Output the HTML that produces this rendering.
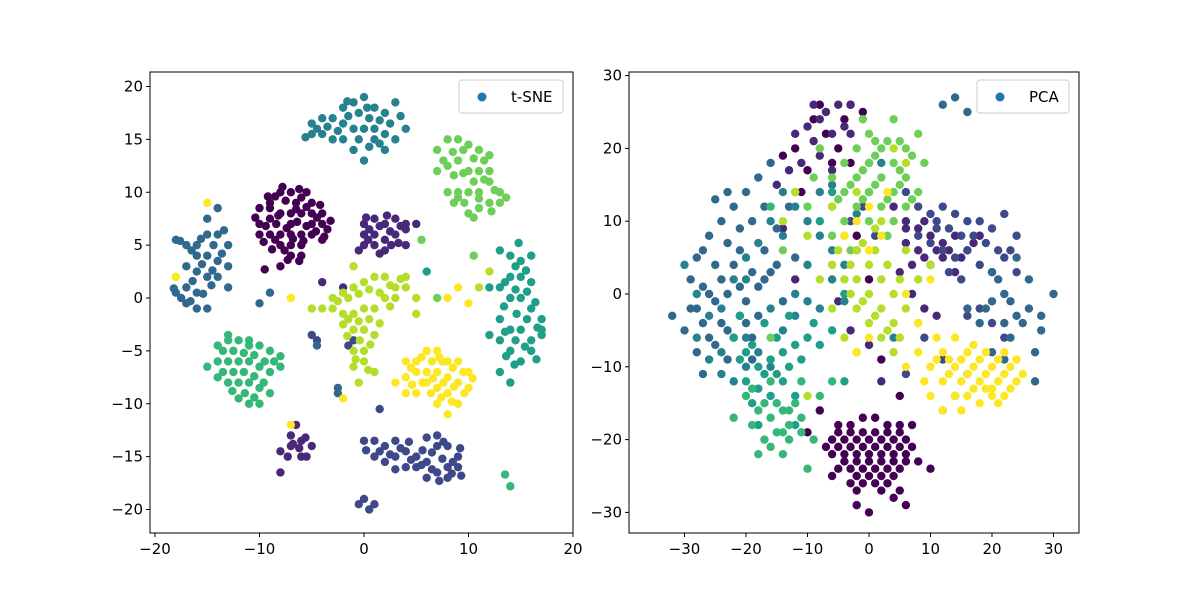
<!DOCTYPE html>
<html><head><meta charset="utf-8"><style>
body{margin:0;background:#fff;}
svg text{font-family:"DejaVu Sans","Liberation Sans",sans-serif;font-size:15px;fill:#000;}
</style></head><body>
<svg id="chart" width="1200" height="600" xmlns="http://www.w3.org/2000/svg">
<defs>
<clipPath id="clipL"><rect x="150" y="72" width="423" height="461"/></clipPath>
<clipPath id="clipR"><rect x="629" y="72" width="450" height="461"/></clipPath>
</defs>
<g id="left"></g>
<g id="right"></g>
</svg>
<script>
const colors=["#440154","#482878","#3e4989","#31688e","#26828e","#1f9e89","#35b779","#6ece58","#b5de2b","#fde725"];
const xTicksL=[-20,-10,0,10,20];
const yTicksL=[-20,-15,-10,-5,0,5,10,15,20];
const xTicksR=[-30,-20,-10,0,10,20,30];
const yTicksR=[-30,-20,-10,0,10,20,30];
const tsne0=[-9,9,-8,10,-7,10,-6,9.5,-5,9,-4,8,-4,7,-5,7,-6,8,-7,8,-8,8,-9,7.5,-10,7,-10,6,-9,6,-8,6,-7,6,-6,6,-5,6,-4,5.5,-6,5,-7,5,-8,5,-7,4,-6,4,-9,8.5,-10,8.5,-5,8,-3.5,6.5,-8,3,-9.5,2.7,-7,7,-8.5,5.5,-6.5,9,-5.5,10,
 -8.5,9.6,-7.5,9.2,-6.5,8.4,-5.5,8.6,-4.5,7.6,-3.2,7.3,-4.6,6.3,-5.5,6.8,-6.4,7.2,-7.4,6.6,-8.4,7,-9.4,6.8,-9.6,5.3,-8.8,4.6,-7.6,4.5,-6.8,5.6,-5.8,5.4,-6.2,3.5,-7.3,3.6,-8.2,7.8,-9.2,9.6,-4.2,8.8,-3.8,5.8,-10.4,7.6,-7.8,10.5,-6.2,10.3];
const tsne1=[0,7,1,7.5,2,7,3,7.5,4,7,0,6,1,6,2,5.5,3,6,4,6.5,0,5,1,5,2,4.5,5,7,4,5,-7,-13,-6,-13.5,-5,-14,-6,-15,-7,-14,-8,-14.5,-6.5,-12,-5.5,-15,-8,-16.5,-2,1,-4,1.5,
 0.5,6.5,1.5,6.8,2.5,6.3,3.5,6.8,0.4,5.5,1.5,4.2,2.6,5,3.3,5.2,-0.5,4.5,0.2,7.6,2.2,7.8,-6.8,-13.8,-6.2,-14.2,-5.6,-13.2,-7.3,-15];
const tsne2=[0,-13.5,1,-13.5,2,-14,3,-13.5,4,-14.5,5,-15,6,-15.5,7,-14,8,-14,9,-15,8,-16,7,-16.5,6,-17,5,-16,4,-16,3,-15,2,-15.5,1,-15,7,-13,8,-17,9,-16,0,-19,0.5,-20,-0.5,-19.5,1,-19.5,-1,-4,-1.5,-4.5,-4.5,-4,-5,-3.5,1.5,-10.5,
 1.5,-14.5,2.5,-14.8,3.5,-14.2,4.5,-15.3,5.5,-15.8,6.5,-16.2,7.5,-15.2,8.5,-15.5,9.2,-14.2,7.6,-13.6,6.5,-14.6,5.6,-14.4,4.3,-13.6,3,-16.2,7.2,-17.3,8.4,-16.6,9.3,-16.8,0.2,-14.4,6,-13.2];
const tsne3=[-18,5.5,-17,5,-16,5,-15,6,-14,6,-13,5,-16,4,-15,4,-14,3.5,-17,3,-16,2.5,-15,2,-14,2,-13,3,-17,1,-16,0.5,-18,0.5,-17,-0.5,-16,-1,-15,-1,-15,7.5,-14,8.5,-13,1,-10,-0.5,-9,0.5,-2.5,-8.5,-2.5,-9,-4.5,-4.5,
 -16.5,4.5,-15.5,3.2,-14.5,2.6,-13.6,4.2,-16.4,1.6,-17.5,0,-16.6,-0.3,-15.4,0.4,-14.4,5,-15.6,5.6,-17.6,5.4,-14.6,1.2,-13.4,6.4,-18.2,0.9];
const tsne4=[-5,16.5,-4,17,-3,17,-2,18,-1,18.5,0,19,1,18,2,17.5,3,18.5,-5,15.5,-4,15.5,-3,15,-2,15,-1,16,0,16,1,16,2,15.5,3,15,-1,14,0,13,1,15,2,14,-2,16.5,4,16,
 -4.5,16,-3.5,16.2,-2.5,15.8,-1.5,17.2,-0.5,17.5,0.5,17,1.5,16.8,2.5,16.5,3.5,17.2,-0.5,15,0.5,14.3,1.5,14.6,-1.6,18.6,0.3,18,-5.6,15.2];
const tsne5=[13,4.5,14,4,15,3.5,16,4,14,2,15,2,16,1.5,13,1,14,0,15,0,16,-1,17,-2,13,-2,14,-3,15,-3,16,-4,17,-3.5,13,-4,14,-5,15,-6,16,-5,13,-7,14,-8,12,-3.5,12,1,6,2.5,
 14.5,3,15.5,2.6,13.5,1.5,14.5,0.8,15.6,0.6,16.4,-0.4,13.4,-0.8,14.6,-1.5,15.6,-2,16.6,-2.8,13.5,-3.2,14.5,-4,15.4,-4.6,16.5,-5.8,14.4,-6.3,13.6,-5.5,14.8,5.2,17,-3];
const tsne6=[-14,-4.5,-13,-4,-12,-4,-11,-4.5,-10,-4.5,-9,-5,-8,-5.5,-8,-6.5,-14,-6,-13,-6,-12,-6,-11,-6,-10,-6.5,-9,-7,-13,-8,-12,-8,-11,-8,-10,-8.5,-9,-9,-12,-9.5,-11,-10,-10,-10,-13,-3.5,-14,-7.5,-15,-6.5,13.5,-16.7,14,-17.8,
 -13.5,-5,-12.5,-5,-11.5,-5.2,-10.5,-5.4,-9.5,-6,-8.6,-6,-13.5,-7,-12.5,-7,-11.5,-7,-10.5,-7.4,-9.6,-8,-12.6,-8.8,-11.4,-9,-10.5,-9.4,-11,-4];
const tsne7=[7,14,8,15,9,15,10,14.5,11,14,12,13.5,7,12,8,12.5,9,13,10,12,11,12,12,11,13,10,8,10,9,10,10,10,11,10,12,9,13,9,10,8,11,8.5,9,9.5,12,12,5.5,5.5,7,0,10.5,4,
 8.5,13.8,9.5,14,10.5,13.2,11.5,13,7.6,13,8.6,11.6,9.5,11.8,10.5,11,11.5,11.2,12.5,10.2,8.6,9,9.6,9,11,9.4,12.2,8.2,13.6,9.5,10.5,7.6];
const tsne8=[-3,0,-2,0.5,-1,1,0,1.5,1,2,2,2,3,1,4,2,-3,-1,-2,-1.5,-1,-1.5,0,-1,1,-1,2,0,3,0,-2,-2.5,-1,-3,0,-3,1,-3.5,-1,-5,0,-5,-1,-6.5,0,-6,1,-7,-0.5,-8,-1,3,-4,-1,-5,-1,5,0,5,-1.5,11,1,12,2.5,
 -2.5,-0.3,-1.5,0,-0.5,0.4,0.5,0.8,1.5,0.5,2.5,1.2,3.5,1.8,-1.5,-2,-0.5,-2.2,0.5,-2,1.5,-2.4,-0.4,-4,0.6,-4.4,-0.8,-5.8,0.4,-6.8,-1.6,-3.6,2.5,-0.8,4,1];
const tsne9=[4,-6,5,-6,6,-5,7,-5,8,-6,9,-6,10,-7,4,-7.5,5,-7,6,-7,7,-7,8,-7.5,9,-8,10,-8.5,6,-8,7,-8.5,8,-9,5,-9,7,-10,9,-10,8,-11,3,-8,4,-9,8,0,9,1,10,-0.5,-15,9,-18,2,-7,0,-7,-12,-2,-9.5,
 4.5,-6.6,5.5,-5.6,6.5,-6,7.5,-6,8.5,-6.6,9.5,-7,4.6,-8.2,5.6,-8,6.6,-7.6,7.6,-8,8.6,-8.4,9.6,-9,6.4,-9,7.4,-9.4,8.4,-9.8,7.2,-5.6,10.4,-7.6];
const pca0=[-5,-18,-3,-18,-1,-17,1,-17,3,-18,5,-18,-6,-20,-4,-20,-2,-20,0,-20,2,-20,4,-20,6,-20,-6,-22,-4,-22,-2,-22,0,-22,2,-22,4,-22,6,-22,-5,-24,-3,-24,-1,-24,1,-24,3,-24,5,-24,-3,-26,-1,-26,1,-26,3,-26,5,-27,0,-30,-2,-29,6,-29,10,-24,-8,-16,-10,-19,-5,20,-7,22,-9,24,-8,26,-3,26,-1,25,-4,24,-6,18,-11,14,-12,20,-14,19,-10,17,-3,18,0,2,-2,8,2,-9,5,-14,
 -5,-19,-3,-19,-1,-19,1,-19,3,-19,5,-19,-7,-21,-5,-21,-3,-21,-1,-21,1,-21,3,-21,5,-21,7,-21,-4,-23,-2,-23,0,-23,2,-23,4,-23,6,-23,-6,-25,-2,-25,0,-25,2,-25,4,-25,-2,-27,2,-27,4,-28,7,-18,8,-23];
const pca1=[-9,26,-7,25,-5,26,-3,26,-10,23,-6,22,-3,22,-11,18,-8,19,-13,17,-6,17,4,12,6,10,8,9,10,8,12,7,14,8,16,6,18,8,6,7,8,6,10,4,12,5,14,3,5,3,7,0,9,-2,11,-3,-5,-1,-3,-5,0,-7,2,-12,-12,2,-14,9,-15,15,
 -8,24,-4,23,-9,21,-12,22,6,9,9,10,11,6,13,6,15,5,17,7,7,4,9,5];
const pca2=[6,14,8,12,10,11,12,12,14,11,16,10,18,10,20,9,22,11,24,8,8,8,10,7,12,6,14,5,16,6,18,4,20,3,22,5,24,3,18,-2,20,-4,22,-6,16,-3,12,-9,-1,12,-3,10,1,8,9,-6,6,-11,
 11,9,13,9,15,8,17,8,19,7,21,6,23,6,13,3,15,2,11,10];
const pca3=[-28,-2,-26,0,-24,2,-22,4,-20,-1,-18,1,-16,3,-14,-1,-30,-5,-28,-8,-26,-6,-24,-4,-22,-6,-20,-4,-18,-3,-28,5,-26,8,-24,10,-22,12,-20,14,-18,16,-16,18,-25,13,-21,9,-17,6,-15,9,-13,12,-19,-9,-27,-11,-23,-9,-12,5,16,-2,18,-4,20,-1,22,0,24,-3,26,-2,28,-5,27,-8,22,-9,24,5,20,-8,12,26,14,27,16,25,-32,-3,27,-12,30,0,
 -27,1,-25,-1,-23,0,-21,1,-19,3,-17,2,-29,-2,-27,-4,-25,-7,-23,-5,-21,-3,-19,-6,-29,2,-27,6,-25,4,-23,7,-21,6,-19,10,-23,14,-17,12,-15,4,21,2,23,-1,25,-4,19,-2,23,-6,26,2,20,3,28,-3,22,-4];
const pca4=[-30,4,-28,0,-26,-3,-24,-8,-22,-12,-20,-6,-18,-8,-16,-10,-14,-5,-12,-3,-10,-1,-22,2,-20,5,-18,7,-16,10,-14,14,-12,12,-10,10,-8,8,-6,6,-4,4,-2,11,-6,15,-28,-6,-24,-2,-20,2,-8,-2,-4,-1,-2,6,0,14,2,18,4,-6,12,-16,14,-14,16,-11,
 -26,-9,-24,-11,-20,-10,-16,-2,-12,0,-14,8,-10,4,-8,14,-6,2];
const pca5=[-22,-6,-20,-8,-18,-10,-16,-9,-14,-8,-12,-7,-10,-6,-8,-7,-6,-5,-20,-12,-18,-13,-16,-14,-14,-12,-12,-14,-21,-3,-17,-4,-13,-3,-4,0,-6,14,-8,10,0,18,-4,-12,-12,-18,-18,-18,
 -21,-9,-19,-7,-17,-11,-15,-11,-13,-10,-11,-9,-19,-15,-15,-6,-9,-4];
const pca6=[-20,-14,-18,-16,-16,-17,-14,-16,-12,-15,-19,-18,-17,-20,-15,-19,-13,-20,-11,-19,-9,-20,-10,-24,-13,-16,-18,-22,-14,-22,-22,-17,-16,-12,-11,-12,-8,-14,-6,-12,-16,12,-12,14,
 -17,-15,-15,-15,-13,-18,-16,-21,-19,-13,-14,-19,-11,-17];
const pca7=[-6,16,-4,18,-2,20,0,22,2,20,4,18,6,16,8,14,-6,12,-4,14,-2,16,0,18,2,16,4,14,6,12,-4,10,-2,12,0,14,2,12,4,10,-8,20,6,20,8,22,-6,8,-3,6,0,10,3,8,-1,24,4,24,-10,12,-14,6,-9,16,9,18,-16,-6,
 -1,17,1,19,3,21,5,17,7,19,-3,15,1,15,5,15,-5,13,-1,13,3,13,7,13,1,21,5,21];
const pca8=[-4,8,-2,6,0,4,2,2,4,0,6,-2,-2,2,0,0,2,-2,4,-4,-6,4,-4,2,-2,-2,0,-4,2,-6,4,-8,-6,-2,-8,2,6,6,8,2,-10,8,-6,12,-2,14,2,10,-4,-6,-2,-8,8,-4,10,4,-12,14,-14,10,-10,-14,4,20,6,18,
 -3,4,-1,7,1,6,3,4,5,2,-1,-1,1,-3,3,-5,-5,6,-3,0,5,-6,1,9];
const pca9=[12,-8,14,-10,16,-11,18,-12,20,-13,22,-11,24,-12,14,-6,16,-8,18,-9,20,-10,22,-8,16,-14,18,-15,20,-14,12,-12,14,-14,10,-10,8,-8,6,-10,10,-14,12,-16,22,-14,24,-9,-4,8,-2,10,0,6,2,8,0,-6,-2,-8,0,12,3,14,8,-4,6,0,10,2,
 13,-9,15,-9,17,-10,19,-11,21,-12,23,-10,25,-11,15,-12,17,-13,19,-13,21,-15,13,-11,11,-9,9,-12,17,-7,19,-8,21,-9,23,-13,15,-16,11,-6];
const tsneSeries=[tsne0,tsne1,tsne2,tsne3,tsne4,tsne5,tsne6,tsne7,tsne8,tsne9];
const pcaSeries=[pca0,pca1,pca2,pca3,pca4,pca5,pca6,pca7,pca8,pca9];
const NS="http://www.w3.org/2000/svg";
function mk(tag,attrs,parent){const e=document.createElementNS(NS,tag);for(const k in attrs)e.setAttribute(k,attrs[k]);parent.appendChild(e);return e;}
function panel(g,box,xs,ys,xT,yT,series,label,clip,pname){
  const pts=mk('g',{'clip-path':'url(#'+clip+')'},g);
  
  
  series.forEach((arr,ci)=>{for(let i=0;i<arr.length;i+=2){
    const c=mk('circle',{cx:xs(arr[i]),cy:ys(arr[i+1]),r:4.2,fill:colors[ci]},pts);
    
    
  }});
  const fr=mk('rect',{x:box.x,y:box.y,width:box.w,height:box.h,fill:'none',stroke:'#000','stroke-width':1},g);
  
  
  xT.forEach(v=>{const x=xs(v);mk('line',{x1:x,x2:x,y1:box.y+box.h,y2:box.y+box.h+4,stroke:'#000'},g);
    const t=mk('text',{x:x,y:box.y+box.h+21,'text-anchor':'middle'},g);t.textContent=(v<0?'\u2212'+(-v):v);
    
    });
  yT.forEach(v=>{const y=ys(v);mk('line',{x1:box.x-4,x2:box.x,y1:y,y2:y,stroke:'#000'},g);
    const t=mk('text',{x:box.x-7,y:y+5,'text-anchor':'end'},g);t.textContent=(v<0?'\u2212'+(-v):v);
    
    });
  const lg=mk('g',{},g);
  
  
  const lx=box.x+box.w-10-label.w;
  mk('rect',{x:lx,y:80,width:label.w,height:33,rx:3,fill:'#fff',stroke:'#ccc','fill-opacity':0.8},lg);
  mk('circle',{cx:lx+23,cy:97,r:4.5,fill:'#1f77b4'},lg);
  const lt=mk('text',{x:lx+52,y:102},lg);lt.textContent=label.t;
}
const bL={x:150,y:72,w:423,h:461};
panel(document.getElementById('left'),bL,v=>364+v*10.45,v=>298-v*10.575,xTicksL,yTicksL,tsneSeries,{t:'t-SNE',w:104},'clipL','tsne');
const bR={x:629,y:72,w:450,h:461};
panel(document.getElementById('right'),bR,v=>869+v*6.15,v=>294-v*7.28,xTicksR,yTicksR,pcaSeries,{t:'PCA',w:92},'clipR','pca');
</script>
</body></html>
